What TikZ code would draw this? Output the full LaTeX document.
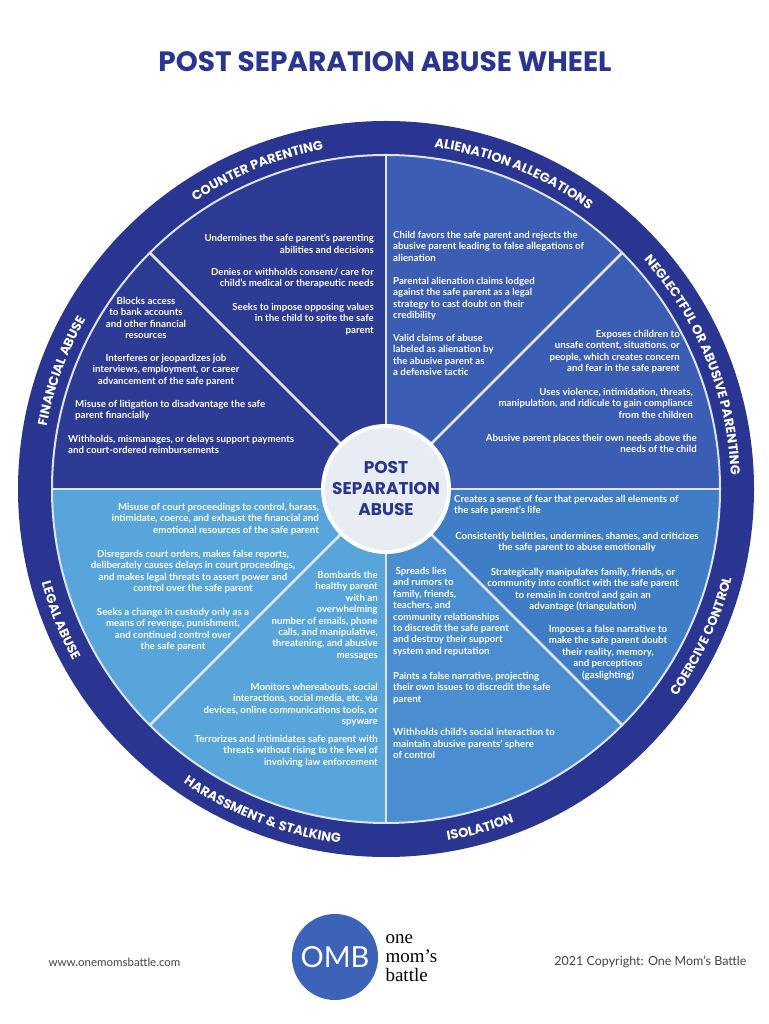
\documentclass[tikz,border=0pt]{standalone}
\usepackage{fontspec}
\setmainfont{Lato}
\newfontfamily\popf{Poppins}
\newfontfamily\serf{Liberation Serif}
\usetikzlibrary{decorations.text,calc}
\definecolor{navy}{HTML}{2A3592}
\definecolor{cA}{HTML}{2D3B94}
\definecolor{cB}{HTML}{3B5DB3}
\definecolor{cC}{HTML}{3F7DC6}
\definecolor{cD}{HTML}{4A8ED1}
\definecolor{cE}{HTML}{58A5DC}
\definecolor{ctrfill}{HTML}{E8ECF3}
\definecolor{divc}{HTML}{DCE4F0}
\definecolor{omb}{HTML}{3D63B8}
\definecolor{foot}{HTML}{444444}
\newcommand\bandfont{\popf\bfseries\fontsize{13}{13}\selectfont}
\tikzset{
  bt/.style={text=white, font=\bfseries\fontsize{9.7}{11.4}\selectfont, inner sep=0pt},
  divider/.style={draw=divc, line width=2.5pt},
}
\begin{document}
\begin{tikzpicture}[x=1pt,y=1pt]
\useasboundingbox (0,0) rectangle (768,1024);
\fill[white] (0,0) rectangle (768,1024);
\coordinate (C) at (386,535);
% title
\node[text=navy, font=\popf\bfseries\fontsize{28}{28}\selectfont] (title) at (385,962) {POST SEPARATION ABUSE WHEEL};
% band
\fill[navy] (C) circle (368);
% sectors
\foreach \a/\col in {90/cA,135/cA,45/cB,0/cB,-45/cC,-90/cD,-135/cE,180/cE}{
  \fill[\col] (C) -- ($(C)+(\a:334)$) arc[start angle=\a, end angle=\a+45, radius=334] -- cycle;
}
\draw[draw=divc, line width=2pt] (C) circle (334);
\foreach \a in {0,45,...,315}{
  \draw[divider] (C) -- ($(C)+(\a:334)$);
}
% centre
\node[circle, fill=ctrfill, draw=white, line width=4pt, minimum size=126pt] (ctr) at (C) {};
\node[text=navy, align=center, font=\popf\bfseries\fontsize{17}{21}\selectfont] (ctrtext) at (C) {POST\\SEPARATION\\ABUSE};
% band labels: clockwise (top half)
\foreach \a/\t in {112/COUNTER PARENTING, 68/ALIENATION ALLEGATIONS, 22/NEGLECTFUL OR ABUSIVE PARENTING, 160/FINANCIAL ABUSE}{
  \path[decorate, decoration={text along path, text align=center, text color=white, text={|\bandfont|\t}}]
    ($(C)+(\a+40:345)$) arc[start angle=\a+40, end angle=\a-40, radius=345];
}
% band labels: counter-clockwise (bottom half)
\foreach \a/\t in {202/LEGAL ABUSE, 249/HARASSMENT {\&} STALKING, 285.5/ISOLATION, -25/COERCIVE CONTROL}{
  \path[decorate, decoration={text along path, text align=center, text color=white, text={|\bandfont|\t}}]
    ($(C)+(\a-40:357)$) arc[start angle=\a-40, end angle=\a+40, radius=357];
}
% counter parenting
\node[bt, anchor=north east, align=right] (cp1) at (374,1024-234) {Undermines the safe parent's parenting\\abilities and decisions};
\node[bt, anchor=north east, align=right] (cp2) at (374,1024-268) {Denies or withholds consent/ care for\\child's medical or therapeutic needs};
\node[bt, anchor=north east, align=right] (cp3) at (374,1024-303) {Seeks to impose opposing values\\in the child to spite the safe\\parent};
% financial
\node[bt, anchor=north, align=center] (fa1) at (146,1024-297) {Blocks access\\to bank accounts\\and other financial\\resources};
\node[bt, anchor=north, align=center] (fa2) at (166,1024-354) {Interferes or jeopardizes job\\interviews, employment, or career\\advancement of the safe parent};
\node[bt, anchor=north west, align=left] (fa3) at (75,1024-400) {Misuse of litigation to disadvantage the safe\\parent financially};
\node[bt, anchor=north west, align=left] (fa4) at (68,1024-435) {Withholds, mismanages, or delays support payments\\and court-ordered reimbursements};
% alienation
\node[bt, anchor=north west, align=left] (al1) at (393,1024-231) {Child favors the safe parent and rejects the\\abusive parent leading to false allegations of\\alienation};
\node[bt, anchor=north west, align=left] (al2) at (393,1024-277) {Parental alienation claims lodged\\against the safe parent as a legal\\strategy to cast doubt on their\\credibility};
\node[bt, anchor=north west, align=left] (al3) at (393,1024-334) {Valid claims of abuse\\labeled as alienation by\\the abusive parent as\\a defensive tactic};
% neglectful
\node[bt, anchor=north east, align=right] (ne1) at (680,1024-330) {Exposes children to\\unsafe content, situations, or\\people, which creates concern\\and fear in the safe parent};
\node[bt, anchor=north east, align=right] (ne2) at (693,1024-388) {Uses violence, intimidation, threats,\\manipulation, and ridicule to gain compliance\\from the children};
\node[bt, anchor=north east, align=right] (ne3) at (697,1024-434) {Abusive parent places their own needs above the\\needs of the child};
% coercive
\node[bt, anchor=north west, align=left] (cc1) at (454,1024-495) {Creates a sense of fear that pervades all elements of\\the safe parent's life};
\node[bt, anchor=north, align=center] (cc2) at (577,1024-532) {Consistently belittles, undermines, shames, and criticizes\\the safe parent to abuse emotionally};
\node[bt, anchor=north, align=center] (cc3) at (583,1024-568) {Strategically manipulates family, friends, or\\community into conflict with the safe parent\\to remain in control and gain an\\advantage (triangulation)};
\node[bt, anchor=north, align=center] (cc4) at (608,1024-625) {Imposes a false narrative to\\make the safe parent doubt\\their reality, memory,\\and perceptions\\(gaslighting)};
% isolation
\node[bt, anchor=north west, align=left] (is1) at (393,1024-567) {\ Spreads lies\\and rumors to\\family, friends,\\teachers, and\\community relationships\\to discredit the safe parent\\and destroy their support\\system and reputation};
\node[bt, anchor=north west, align=left] (is2) at (393,1024-672) {Paints a false narrative, projecting\\their own issues to discredit the safe\\parent};
\node[bt, anchor=north west, align=left] (is3) at (393,1024-728) {Withholds child's social interaction to\\maintain abusive parents' sphere\\of control};
% harassment
\node[bt, anchor=north east, align=right] (hs1) at (378,1024-571) {Bombards the\\healthy parent\\with an\\overwhelming\\number of emails, phone\\calls, and manipulative,\\threatening, and abusive\\messages};
\node[bt, anchor=north east, align=right] (hs2) at (378,1024-683) {Monitors whereabouts, social\\interactions, social media, etc. via\\devices, online communications tools, or\\spyware};
\node[bt, anchor=north east, align=right] (hs3) at (378,1024-735) {Terrorizes and intimidates safe parent with\\threats without rising to the level of\\involving law enforcement};
% legal
\node[bt, anchor=north east, align=right] (la1) at (319,1024-503) {Misuse of court proceedings to control, harass,\\intimidate, coerce, and exhaust the financial and\\emotional resources of the safe parent};
\node[bt, anchor=north, align=center] (la2) at (193,1024-550) {Disregards court orders, makes false reports,\\deliberately causes delays in court proceedings,\\and makes legal threats to assert power and\\control over the safe parent};
\node[bt, anchor=north, align=center] (la3) at (173,1024-608) {Seeks a change in custody only as a\\means of revenge, punishment,\\and continued control over\\the safe parent};
% footer
\node[text=foot, font=\fontsize{11.5}{11.5}\selectfont, anchor=west] (url) at (45,1024-962) {www.onemomsbattle.com};
\node[text=foot, font=\fontsize{12.5}{12.5}\selectfont, anchor=east] (copy) at (750,1024-962) {2021 Copyright: One Mom's Battle};
\node[circle, fill=omb, minimum size=86pt, inner sep=0pt] (logo) at (335,1024-957) {};
\node[text=white, font=\fontsize{29}{29}\selectfont] (logotext) at (logo) {OMB};
\node[anchor=west, align=left, font=\serf\fontsize{19}{19}\selectfont] (brand) at (382,1024-958) {one\\mom’s\\battle};
\end{tikzpicture}
\end{document}
